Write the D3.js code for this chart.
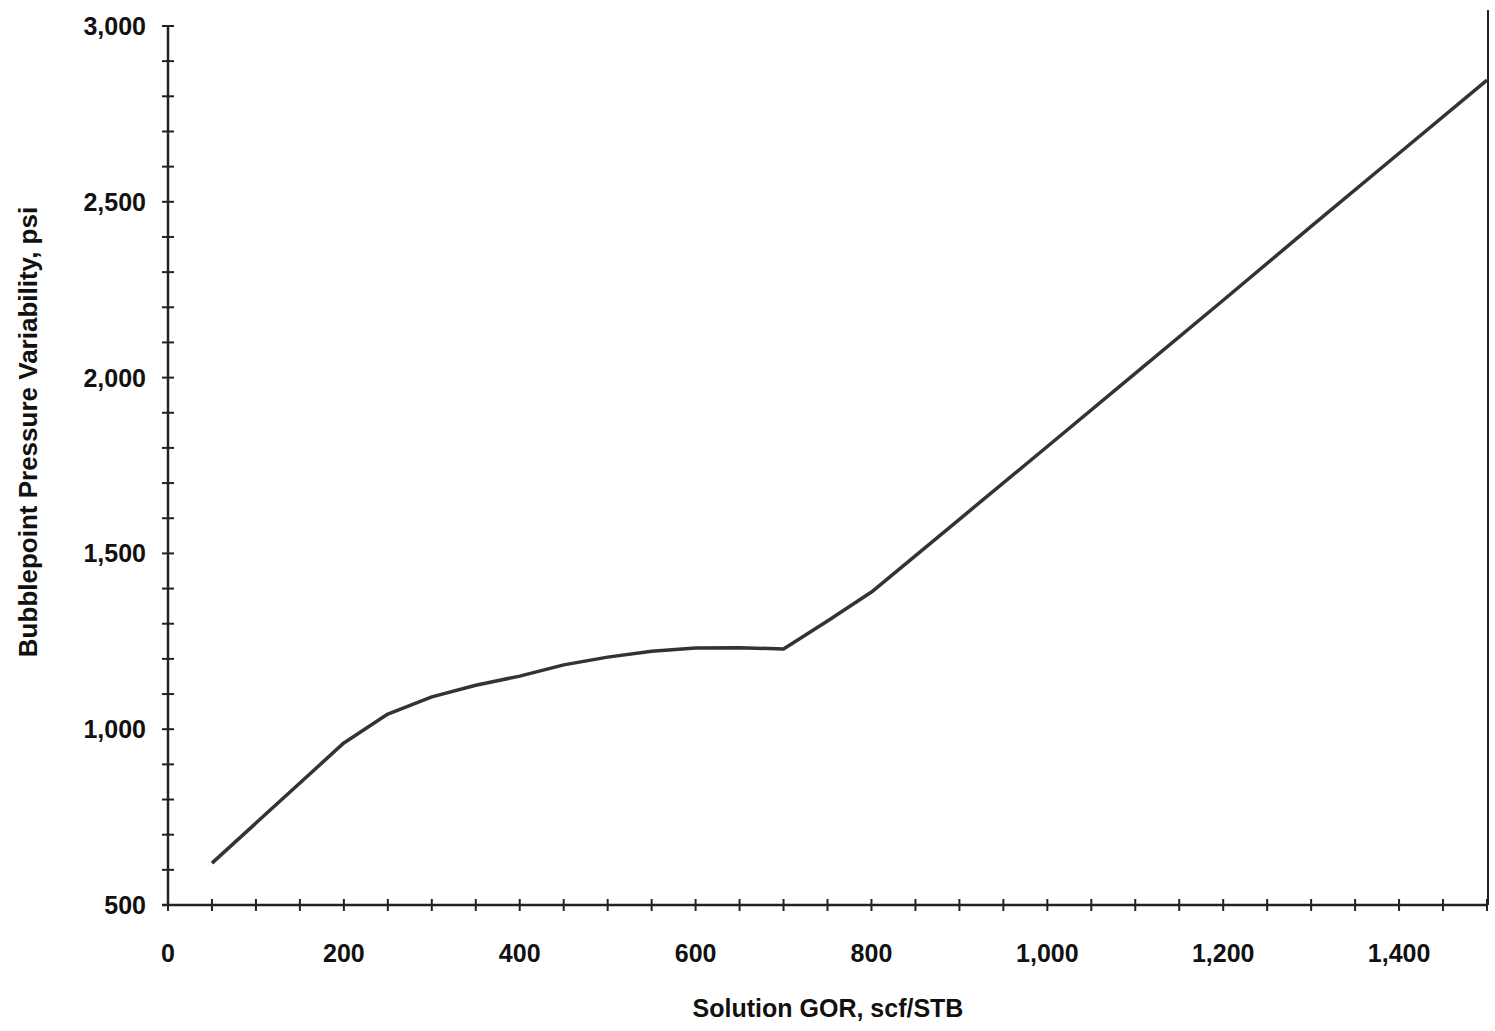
<!DOCTYPE html><html><head><meta charset="utf-8"><script src="https://cdn.jsdelivr.net/npm/d3@7"></script>
<style>body{margin:0;background:#fff}</style></head><body><svg id="c" width="1495" height="1031"></svg><script>
const gor=[50,100,150,200,250,300,350,400,450,500,550,600,650,700,750,800,900,1000,1100,1200,1300,1400,1500];
const pb=[619,733,847,961,1043,1092,1125,1151,1183,1205,1222,1231,1232,1228,1308,1390,1597,1804,2012,2220,2430,2638,2846];
const xMajor=[0,200,400,600,800,1000,1200,1400];
const yMajor=[500,1000,1500,2000,2500,3000];
const svg=d3.select("#c");
const x=d3.scaleLinear().domain([0,1500]).range([168,1487]);
const y=d3.scaleLinear().domain([500,3000]).range([905,26]);
const col="#222";const f=d3.format(",");const ff="Liberation Sans, Arial";
const xt=d3.range(0,1501,50), yt=d3.range(500,3001,100);
svg.selectAll(".xt").data(xt).enter().append("line").attr("x1",d=>x(d)).attr("x2",d=>x(d)).attr("y1",899).attr("y2",911).attr("stroke",col).attr("stroke-width",2);
svg.selectAll(".yt").data(yt).enter().append("line").attr("y1",d=>y(d)).attr("y2",d=>y(d)).attr("x1",162).attr("x2",174).attr("stroke",col).attr("stroke-width",2);
svg.append("line").attr("x1",168).attr("x2",168).attr("y1",y(3000)).attr("y2",905).attr("stroke",col).attr("stroke-width",2.5);
svg.append("line").attr("x1",162).attr("x2",1487).attr("y1",905).attr("y2",905).attr("stroke",col).attr("stroke-width",2.5);
svg.append("line").attr("x1",1488).attr("x2",1488).attr("y1",10).attr("y2",905).attr("stroke",col).attr("stroke-width",2);
svg.selectAll(".xl").data(xMajor).enter().append("text").attr("x",d=>x(d)).attr("y",962).attr("text-anchor","middle").text(f).attr("font-family",ff).attr("font-weight","bold").attr("font-size",25).attr("fill","#111");
svg.selectAll(".yl").data(yMajor).enter().append("text").attr("x",146).attr("y",d=>y(d)+9).attr("text-anchor","end").text(f).attr("font-family",ff).attr("font-weight","bold").attr("font-size",25).attr("fill","#111");
svg.append("text").attr("x",828).attr("y",1017).attr("text-anchor","middle").text("Solution GOR, scf/STB").attr("font-family",ff).attr("font-weight","bold").attr("font-size",25).attr("fill","#111");
svg.append("text").attr("transform","translate(37,432) rotate(-90)").attr("text-anchor","middle").text("Bubblepoint Pressure Variability, psi").attr("font-family",ff).attr("font-weight","bold").attr("font-size",26).attr("fill","#111");
svg.append("path").datum(gor.map((g,i)=>[g,pb[i]])).attr("d",d3.line().x(d=>x(d[0])).y(d=>y(d[1]))).attr("fill","none").attr("stroke","#333").attr("stroke-width",3.5).attr("stroke-linejoin","round");
</script></body></html>
